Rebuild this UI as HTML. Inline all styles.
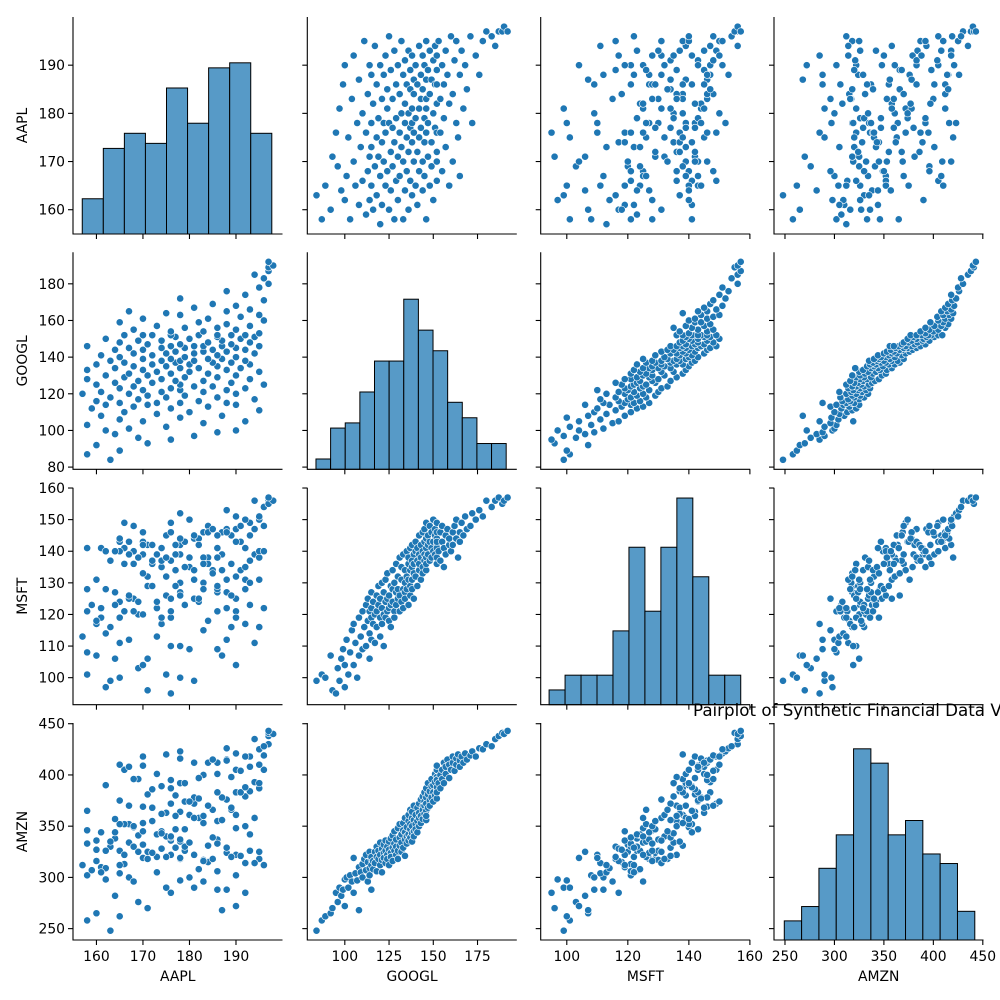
<!DOCTYPE html>
<html><head><meta charset="utf-8"><style>
html,body{margin:0;padding:0;background:#fff;}
svg{display:block;font-family:"DejaVu Sans","Liberation Sans",sans-serif;}
</style></head><body>
<svg id="chart" width="1000" height="1000" viewBox="0 0 1000 1000" xmlns="http://www.w3.org/2000/svg"></svg>
<script>
const vars = ["AAPL","GOOGL","MSFT","AMZN"];
const googl = [84,87,89,92,93,95,96,97,98,99,100,100,101,102,103,104,105,105,106,107,108,108,109,110,110,111,112,112,113,113,114,114,114,115,115,115,115,116,116,117,117,118,118,118,119,119,120,120,120,121,121,121,122,122,122,123,123,123,124,124,124,125,125,125,126,126,126,127,127,127,128,128,128,129,129,129,130,130,130,131,131,131,132,132,132,133,133,133,134,134,134,134,135,135,135,136,136,136,136,137,137,137,137,138,138,138,138,138,139,139,139,139,140,140,140,141,141,141,142,142,142,142,143,143,143,144,144,144,144,145,145,145,145,146,146,146,146,146,146,147,147,147,148,148,148,149,149,149,150,150,150,151,151,151,152,152,152,152,152,152,152,152,153,154,154,155,155,156,156,157,157,158,159,159,160,161,161,162,163,163,164,165,165,166,167,168,169,171,172,174,176,178,180,183,185,187,189,190,192];
const aapl = [163,158,165,160,171,176,169,181,164,186,162,190,167,175,158,183,170,192,165,178,161,187,173,166,180,195,159,176,168,184,162,190,171,178,165,188,173,160,182,169,194,175,163,186,171,179,157,190,167,183,174,161,188,170,178,165,192,176,181,168,185,160,178,196,172,164,189,177,169,183,158,193,174,166,186,179,171,190,162,176,184,167,195,173,180,158,188,170,178,164,191,182,175,168,186,172,193,160,180,177,185,166,189,174,181,163,192,178,170,187,176,184,165,190,179,172,186,161,181,194,175,168,188,177,183,170,192,164,185,179,174,190,167,187,181,158,195,176,183,171,189,178,165,193,184,174,187,169,191,180,162,186,177,194,172,189,182,166,192,176,186,170,195,183,176,190,168,186,179,193,173,188,182,165,196,184,170,191,178,195,175,188,167,193,181,190,185,196,178,192,188,195,197,196,194,197,197,198,197];
const msft = [99,101,100,107,96,95,103,99,106,109,97,104,112,101,108,115,104,117,111,100,119,107,113,121,109,116,123,110,125,118,114,121,106,127,119,112,122,117,124,120,111,126,116,121,129,123,113,119,125,130,117,122,127,120,110,124,131,119,125,121,133,118,126,122,129,123,116,134,124,128,121,130,119,136,127,123,132,125,128,121,138,126,131,124,135,128,122,139,130,127,134,125,132,140,128,136,123,131,138,129,134,141,126,135,131,137,128,142,133,139,125,136,140,132,143,137,129,141,134,139,145,136,131,142,138,146,135,140,133,143,137,147,139,134,144,141,138,149,136,142,145,139,143,137,148,141,146,138,143,150,140,145,139,147,142,136,144,149,141,146,138,143,140,146,137,143,148,141,135,145,139,147,142,144,140,146,142,148,144,150,138,146,143,149,145,151,147,148,152,150,153,151,156,154,156,157,155,156,157];
const amzn = [248,258,262,265,270,285,276,290,282,288,298,272,300,290,302,296,319,285,304,297,310,268,305,313,300,318,307,322,296,315,309,302,325,318,312,288,320,316,308,325,314,320,330,306,318,326,312,322,334,317,328,305,324,332,319,326,314,336,322,330,318,327,335,312,324,338,320,329,341,316,333,326,345,322,337,330,318,348,326,339,331,352,325,342,334,346,329,353,337,344,321,358,340,349,333,355,342,336,361,347,339,352,366,343,358,335,350,364,345,356,340,370,352,361,347,368,355,344,372,358,363,350,376,360,353,369,379,357,366,374,362,383,370,356,378,365,387,372,360,381,368,392,375,384,370,389,378,396,383,374,390,401,380,393,386,398,377,405,388,395,383,409,392,400,387,405,396,412,392,408,401,415,397,410,405,412,418,404,416,410,420,414,408,418,412,421,415,419,423,418,426,425,430,428,435,438,441,440,443];
const data = [aapl, googl, msft, amzn];
const ranges = [[154.96,200],[78.8,197.2],[91.45,160.1],[238.9,450.7]];
const ticks = [[160,170,180,190],[100,125,150,175],[100,120,140,160],[250,300,350,400,450]];
const yticks = [[160,170,180,190],[80,100,120,140,160,180],[100,110,120,130,140,150,160],[250,300,350,400,450]];
// histogram data (counts per bin) for diagonal
const histEdges = [[156.95,197.7],[83.7,191.2],[94.2,157.0],[249.3,441.9]];
const histAAPL = [7,17,20,18,29,22,33,34,20];
const histGOOGL = [2,8,9,15,21,21,33,27,23,13,10,5,5];
const histMSFT = [3,6,6,6,15,32,19,32,42,26,6,6];
const histAMZN = [4,7,15,22,40,37,22,25,18,16,6];
const hists = [histAAPL, histGOOGL, histMSFT, histAMZN];
const countMax = [43.1,42.1,44.1,45.4];

const NS = "http://www.w3.org/2000/svg";
const svg = document.getElementById("chart");
const X0 = [73,307.3,540.7,774], W = 209.5;
const Y0 = [17,252.3,487.7,723], H = 217;
function mk(tag, attrs, parent){const e=document.createElementNS(NS,tag);for(const k in attrs)e.setAttribute(k,attrs[k]);(parent||svg).appendChild(e);return e;}
function sx(c,v){const r=ranges[c];return X0[c]+(v-r[0])/(r[1]-r[0])*W;}
function sy(rw,v){const r=ranges[rw];return Y0[rw]+H-(v-r[0])/(r[1]-r[0])*H;}

for(let rw=0;rw<4;rw++){
  for(let c=0;c<4;c++){
    const g = mk("g",{});
    
    
    if(rw===c){
      const cnt = hists[c], e = histEdges[c], n = cnt.length, bw = (e[1]-e[0])/n;
      for(let i=0;i<n;i++){
        const xa = sx(c,e[0]+i*bw), xb = sx(c,e[0]+(i+1)*bw);
        const h = cnt[i]/countMax[c]*H;
        const r = mk("rect",{x:xa,y:Y0[rw]+H-h,width:xb-xa,height:h,fill:"#579ac7",stroke:"#000","stroke-width":1},g);
        
        
      }
    } else {
      const xs = data[c], ys = data[rw];
      for(let i=0;i<xs.length;i++){
        const p = mk("circle",{cx:sx(c,xs[i]),cy:sy(rw,ys[i]),r:3.6,fill:"#1f77b4",stroke:"#fff","stroke-width":0.6},g);
        
        
      }
    }
    // spines
    const ax = mk("path",{d:`M${X0[c]},${Y0[rw]} V${Y0[rw]+H} H${X0[c]+W}`,fill:"none",stroke:"#000","stroke-width":1.1},g);
    
    
    // x ticks
    ticks[c].forEach(t=>{
      const x = sx(c,t);
      mk("line",{x1:x,x2:x,y1:Y0[rw]+H,y2:Y0[rw]+H+5,stroke:"#000","stroke-width":1.1},g);
      if(rw===3){
        const tx = mk("text",{x:x,y:Y0[rw]+H+21,"text-anchor":"middle","font-size":"13.9px",fill:"#000"},g);
        tx.textContent = t;
        
        
      }
    });
    // y ticks
    yticks[rw].forEach(t=>{
      const y = sy(rw,t);
      mk("line",{x1:X0[c]-5,x2:X0[c],y1:y,y2:y,stroke:"#000","stroke-width":1.1},g);
      if(c===0){
        const tx = mk("text",{x:X0[c]-8,y:y+5,"text-anchor":"end","font-size":"13.9px",fill:"#000"},g);
        tx.textContent = t;
        
        
      }
    });
  }
}
for(let i=0;i<4;i++){
  const xl = mk("text",{x:X0[i]+W/2,y:981,"text-anchor":"middle","font-size":"13.9px",fill:"#000"});
  xl.textContent = vars[i];
  
  
  const cy = Y0[i]+H/2;
  const yl = mk("text",{x:27,y:cy,"text-anchor":"middle","font-size":"13.9px",fill:"#000",transform:`rotate(-90 27 ${cy})`});
  yl.textContent = vars[i];
  
  
}
const title = mk("text",{x:693,y:716,"font-size":"16.7px",fill:"#000"});
title.textContent = "Pairplot of Synthetic Financial Data Visualization";


</script>
</body></html>
